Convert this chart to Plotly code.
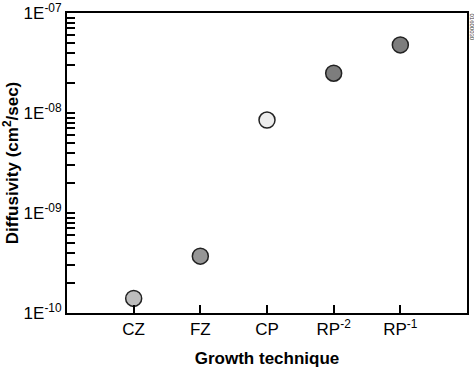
import plotly.graph_objects as go

categories = ["CZ", "FZ", "CP", "RP<sup>-2</sup>", "RP<sup>-1</sup>"]
diffusivity = [1.4e-10, 3.7e-10, 8.5e-9, 2.5e-8, 4.8e-8]
marker_colors = ["#bdbdbd", "#969696", "#ededed", "#7d7d7d", "#7d7d7d"]
major_vals = [1e-10, 1e-9, 1e-8, 1e-7]
major_text = ["1E<sup>-10</sup>", "1E<sup>-09</sup>", "1E<sup>-08</sup>", "1E<sup>-07</sup>"]
minor_digits = [2, 3, 4, 5, 6, 7, 8, 9]

minor_vals = [v * d for v in major_vals[:-1] for d in minor_digits]

xpos = list(range(len(categories)))

fig = go.Figure()
fig.add_trace(go.Scatter(
    x=xpos, y=diffusivity, mode="markers",
    marker=dict(size=16, color=marker_colors, line=dict(color="#222", width=1.5)),
    showlegend=False,
))

font = "Liberation Sans, Arial, sans-serif"
fig.update_layout(
    width=474, height=377,
    margin=dict(l=67, r=7, t=13, b=64, autoexpand=False),
    paper_bgcolor="white", plot_bgcolor="white",
    font=dict(family=font, color="black"),
    showlegend=False,
)
fig.update_xaxes(
    range=[-1, 5], tickmode="array", tickvals=xpos, ticktext=categories,
    ticks="inside", ticklen=8, tickwidth=2, tickcolor="#000000",
    showgrid=False, zeroline=False,
    showline=True, linecolor="black", linewidth=2, mirror=True,
    tickfont=dict(size=17),
    title=dict(text="<b>Growth technique</b>", font=dict(size=17), standoff=14),
)
fig.update_yaxes(
    type="log", range=[-10, -7],
    tickmode="array", tickvals=major_vals, ticktext=major_text,
    ticks="inside", ticklen=8, tickwidth=2, tickcolor="#000000",
    minor=dict(tickmode="array", tickvals=minor_vals, ticks="inside",
               ticklen=8, tickwidth=1.5, tickcolor="#000000", showgrid=False),
    showgrid=False, zeroline=False,
    showline=True, linecolor="black", linewidth=2, mirror=True,
    tickfont=dict(size=17),
    title=dict(text="<b>Diffusivity (cm<sup>2</sup>/sec)</b>", font=dict(size=17), standoff=2),
)

fig.add_annotation(
    x=1.0, y=1.0, xref="paper", yref="paper", xanchor="left", yanchor="top",
    xshift=0, yshift=2, text="01600030", textangle=90, showarrow=False,
    font=dict(size=6, color="#333"),
)

fig.write_html("out.html", config={"displayModeBar": False})

with open("out.html", "r", encoding="utf-8") as f:
    html = f.read()
html = html.replace("<body>", '<body style="margin:0;padding:0;overflow:hidden">', 1)
with open("out.html", "w", encoding="utf-8") as f:
    f.write(html)
